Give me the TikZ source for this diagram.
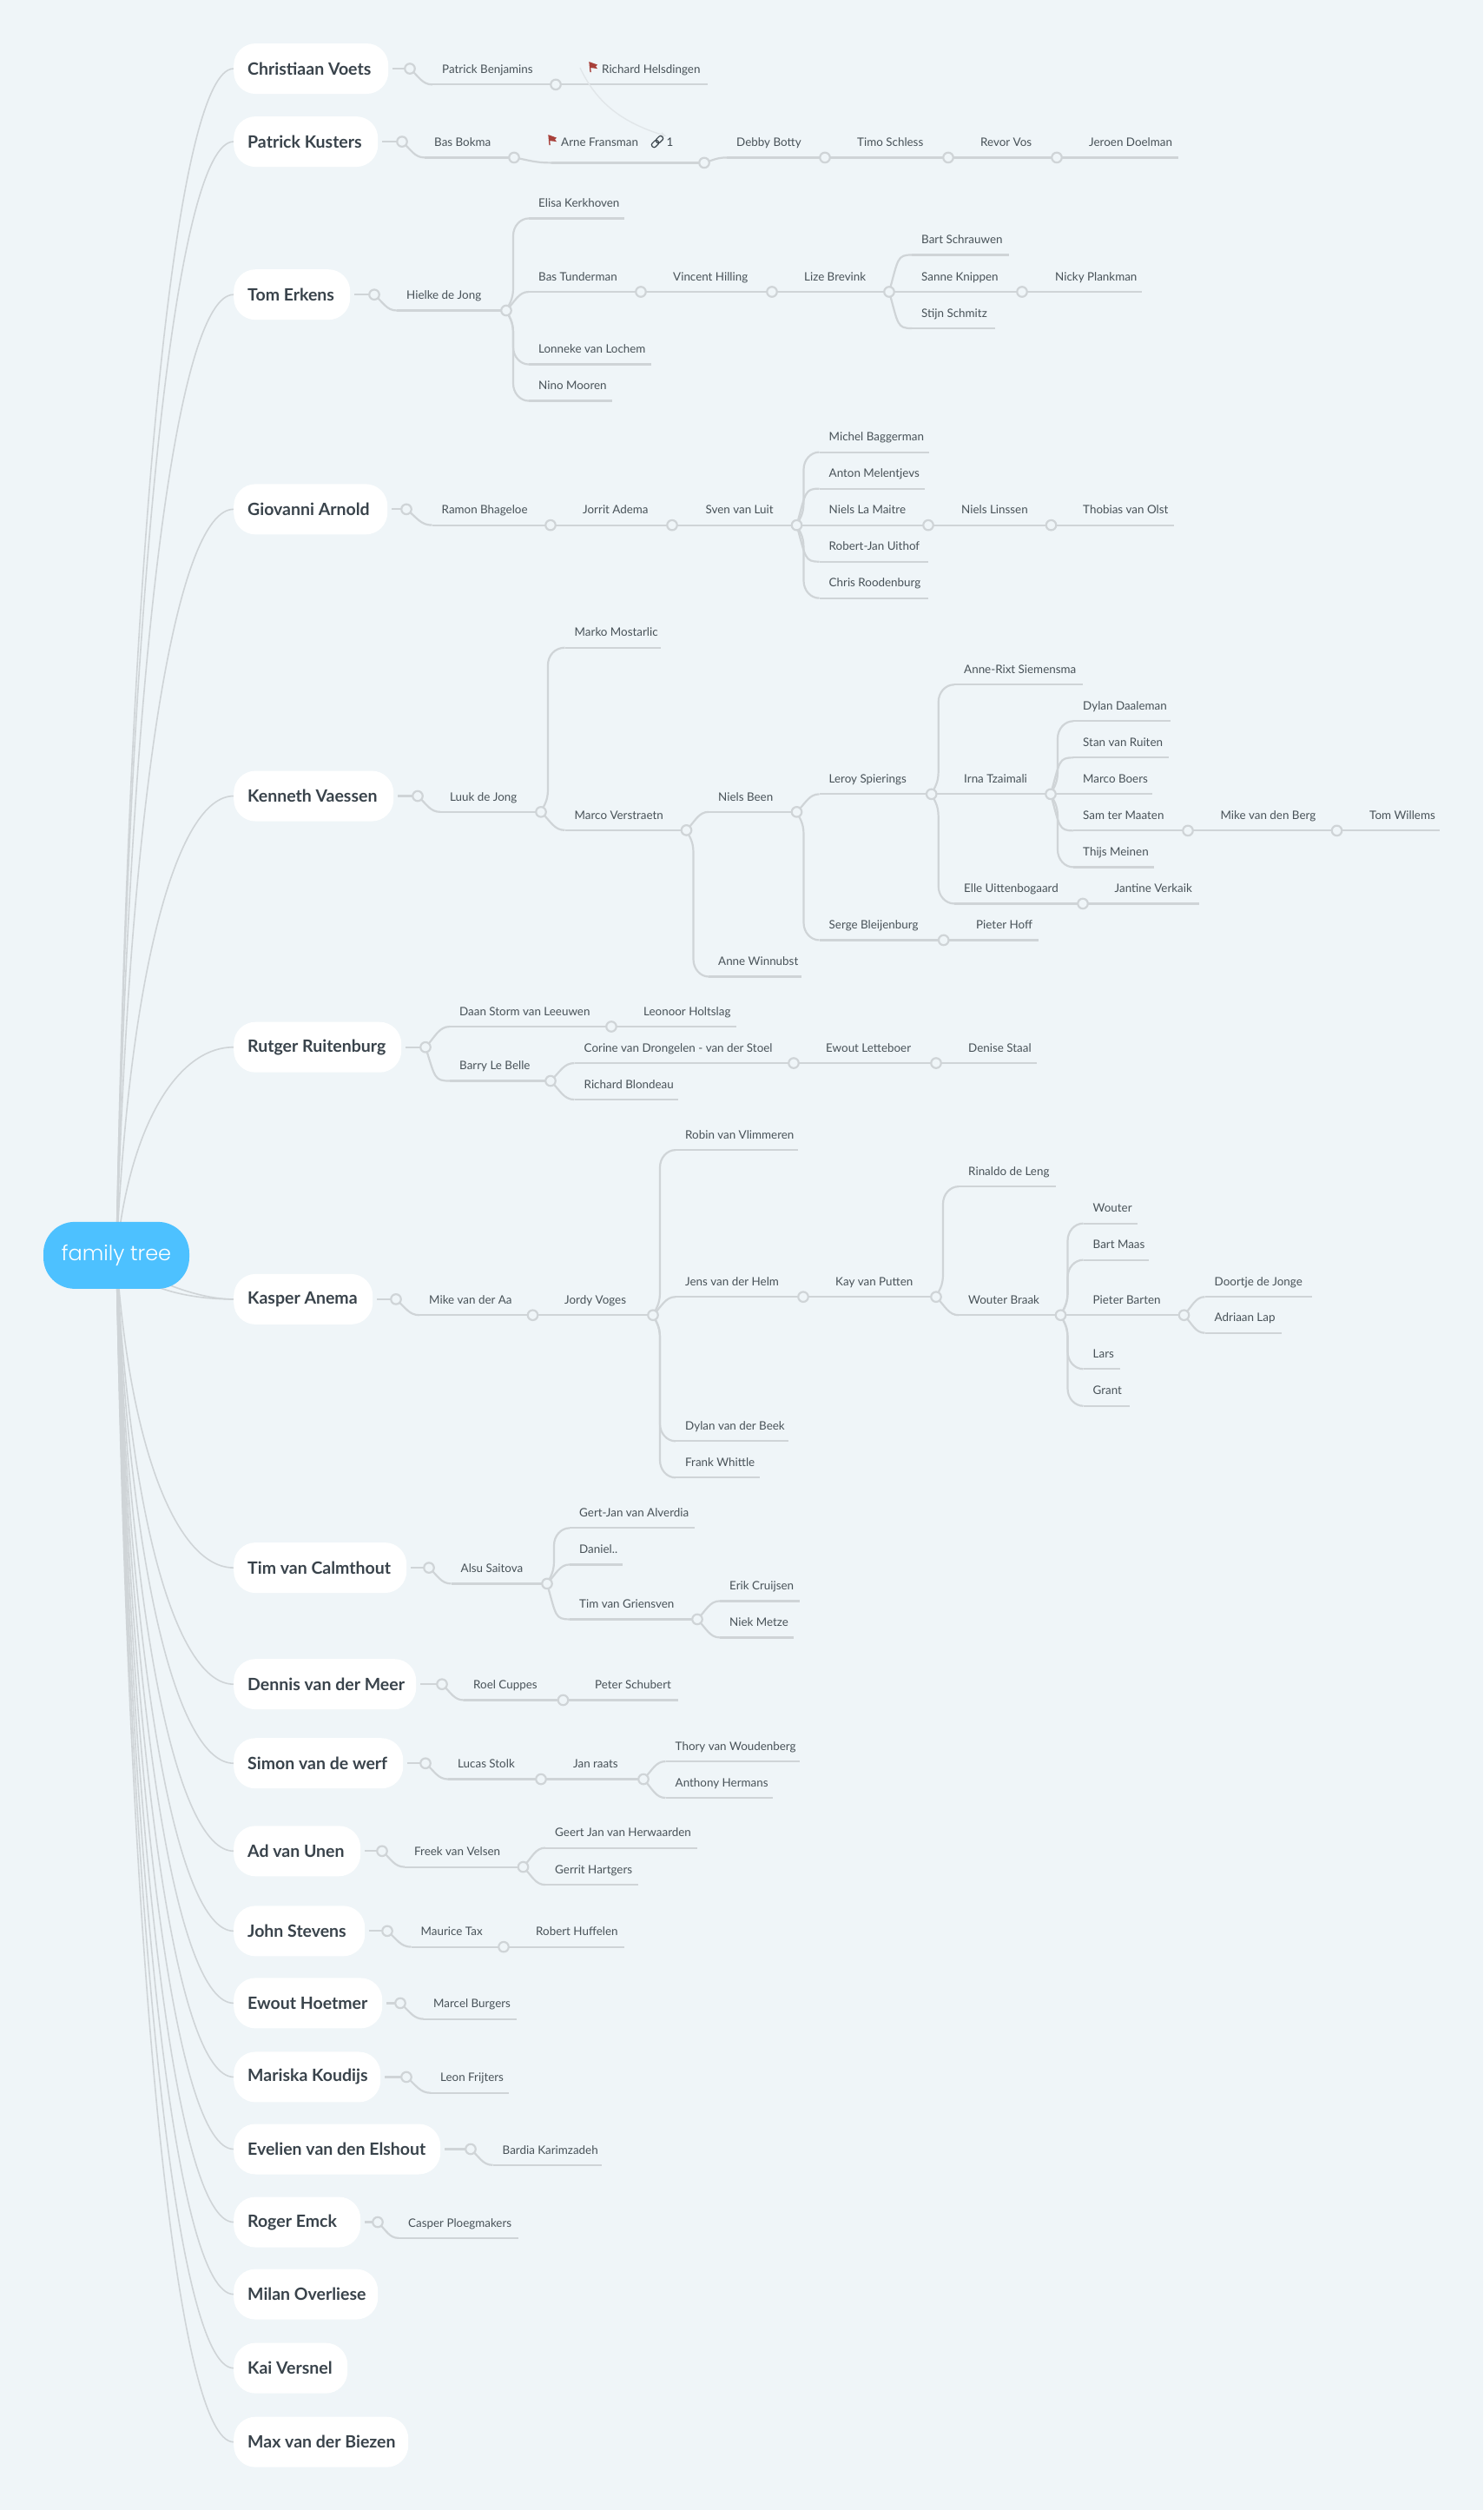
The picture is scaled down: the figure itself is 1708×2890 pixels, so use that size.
\documentclass[tikz,border=0pt]{standalone}
\usepackage{fontspec}
\usetikzlibrary{arrows.meta,calc,backgrounds}
\setmainfont{Lato}
\newfontfamily\rootfont{Poppins}[UprightFont=* Light]
\definecolor{pagebg}{HTML}{EFF5F8}
\definecolor{wirec}{HTML}{CFD4D7}
\definecolor{relc}{HTML}{E1E6E9}
\definecolor{rootc}{HTML}{4DC1FF}
\definecolor{topicink}{HTML}{39434B}
\definecolor{subink}{HTML}{485258}
\definecolor{flagc}{HTML}{A8403A}
\tikzset{
  topicbox/.style={anchor=west,fill=white,minimum height=58pt,rounded corners=25pt,inner sep=0pt,text=topicink,font=\fontsize{19.5}{22}\selectfont\bfseries},
  rootbox/.style={fill=rootc,minimum width=168pt,minimum height=77pt,rounded corners=36pt,inner sep=0pt,text=white,text height=18pt,text depth=5pt,font=\fontsize{24}{30}\rootfont},
  lbl/.style={anchor=west,inner sep=0pt,text height=12pt,text depth=1pt,text=subink,font=\fontsize{13.4}{16}\selectfont},
  knobc/.style={circle,draw=wirec,fill=pagebg,line width=2.2pt,minimum size=11.5pt,inner sep=0pt},
  wire/.style={draw=wirec,line width=2.2pt},
  rootwire/.style={draw=wirec,line width=1.6pt},
  relwire/.style={draw=relc,line width=1.4pt,-{Latex[length=7pt,width=6pt]}},
}
% person with explicit line y: name, text x, text y, line end x, line y, text
\newcommand{\personl}[6]{%
  \node[lbl] (#1) at (#2,#3) {#6};
  \coordinate (#1-a) at (#2-11,#5);
  \coordinate (#1-b) at (#4,#5);
  \begin{pgfonlayer}{background}\draw[wire] (#1-a) -- (#1-b);\end{pgfonlayer}}
% person: name, text x, text y, line end x, text
\newcommand{\person}[5]{\personl{#1}{#2}{#3}{#4}{#3+18.3}{#5}}
\newcommand{\knob}[3]{\node[knobc] (#1) at (#2,#3) {};}
% link: knob to start of a person's line; long drops run vertically beside the knob
\newcommand{\lk}[2]{%
  \begin{pgfonlayer}{background}
  \path let \p1=(#1.center),\p2=(#2-a),\n1={abs(\y2-\y1)} in \pgfextra{\xdef\lkdy{\n1}};
  \ifdim\lkdy<60pt
  \draw[wire] let \p1=(#1.center),\p2=(#2-a),\n1={abs(\y2-\y1)<30?.5:.9},\n2={abs(\y2-\y1)<30?.55:.35} in
    (\p1) .. controls (\x1+.4*\x2-.4*\x1,\y1+\n1*\y2-\n1*\y1) and (\x1+\n2*\x2-\n2*\x1,\y2) .. (\p2);
  \else
  \draw[wire] let \p1=(#1.center),\p2=(#2-a),\n1={(\y2>\y1)?1:-1} in
    (\p1) .. controls (\x1+3pt,\y1+\n1*7pt) and (\x1+8pt,\y1+\n1*12pt) .. (\x1+8pt,\y1+\n1*26pt)
    -- (\x1+8pt,\y2-\n1*20pt) .. controls (\x1+8pt,\y2-\n1*9pt) and (\x1+16pt,\y2) .. (\p2);
  \fi
  \end{pgfonlayer}}
% topic: name, y, right x, text (left aligned inside the box)
\newcommand{\topic}[4]{%
  \node[topicbox] (#1) at (269,#2) {\makebox[\dimexpr #3pt-269pt\relax][l]{\hspace{16pt}#4}};
  \begin{pgfonlayer}{background}
  \draw[rootwire] let \p1=(root.center),\p2=(#1.west) in
    (\p1) .. controls (\x1+.11*\x2-.11*\x1,\y1+.62*\y2-.62*\y1) and (\x1+.52*\x2-.52*\x1,\y2) .. (\p2);
  \end{pgfonlayer}}
% stub from topic to its knob: topic, knob, knob x, y
\newcommand{\stub}[4]{%
  \knob{#2}{#3}{#4}
  \begin{pgfonlayer}{background}\draw[wire] ([xshift=5pt]#1.east) -- (#2.center);\end{pgfonlayer}}
\newcommand{\flagmark}[2]{%
  \fill[flagc] (#1+.3,#2) -- (#1+10,#2+3.5) -- (#1+8,#2+5.5) -- (#1+10,#2+8) -- (#1+2.2,#2+7) -- (#1+2.8,#2+12) -- (#1+1.4,#2+12) -- cycle;}
\begin{document}
\begin{tikzpicture}[x=1pt,y=-1.0006pt]
\useasboundingbox (0,0) rectangle (1708,2888.27);
\begin{pgfonlayer}{background}\fill[pagebg] (0,0) rectangle (1708,2888.27);\end{pgfonlayer}
\node[rootbox] (root) at (134,1444.5) {family tree};

% ---------- Christiaan
\topic{t1}{79}{447}{Christiaan Voets}
\stub{t1}{k1}{472}{79}
\person{a1}{509}{79}{640}{Patrick Benjamins}
\knob{a1k}{640}{97.3}
\lk{k1}{a1}
\person{a2}{693}{79}{815}{Richard Helsdingen}
\lk{a1k}{a2}
\flagmark{678}{71}

% ---------- Patrick Kusters
\topic{t2}{163}{435}{Patrick Kusters}
\stub{t2}{k2}{463}{163}
\person{b1}{500}{163}{592}{Bas Bokma}
\knob{b1k}{592}{181.3}
\lk{k2}{b1}
\personl{b2}{646}{163}{811}{187.3}{Arne Fransman}
\knob{b2k}{811}{187.3}
\lk{b1k}{b2}
\flagmark{631}{155}
\person{b3}{848}{163}{950}{Debby Botty}
\knob{b3k}{950}{181.3}
\lk{b2k}{b3}
\person{b4}{987}{163}{1092}{Timo Schless}
\knob{b4k}{1092}{181.3}
\lk{b3k}{b4}
\person{b5}{1129}{163}{1217}{Revor Vos}
\knob{b5k}{1217}{181.3}
\lk{b4k}{b5}
\person{b6}{1254}{163}{1357}{Jeroen Doelman}
\lk{b5k}{b6}
% link icon and count
\coordinate (relend) at (768,157);
\coordinate (relstart) at (668,78);
\draw[relwire] (relstart) .. controls (690,125) and (725,143) .. (relend);
\begin{scope}[shift={(757,163)},rotate=45]
\draw[topicink,line width=1.2pt,rounded corners=2.4pt] (-8,-2.8) rectangle (1,2.8);
\draw[topicink,line width=1.2pt,rounded corners=2.4pt] (-1,-2.8) rectangle (8,2.8);
\end{scope}
\node[lbl,text=topicink] (count) at (767.5,163) {1};

% ---------- Tom Erkens
\topic{t3}{339}{403}{Tom Erkens}
\stub{t3}{k3}{431}{339}
\person{c1}{468}{339}{583}{Hielke de Jong}
\knob{c1k}{583}{357.3}
\lk{k3}{c1}
\person{c2}{620}{233}{719}{Elisa Kerkhoven}
\lk{c1k}{c2}
\person{c3}{620}{317.5}{738}{Bas Tunderman}
\knob{c3k}{738}{335.8}
\lk{c1k}{c3}
\person{c4}{620}{401}{750}{Lonneke van Lochem}
\lk{c1k}{c4}
\person{c5}{620}{443}{705}{Nino Mooren}
\lk{c1k}{c5}
\person{c6}{775}{317.5}{889}{Vincent Hilling}
\knob{c6k}{889}{335.8}
\lk{c3k}{c6}
\person{c7}{926}{317.5}{1024}{Lize Brevink}
\knob{c7k}{1024}{335.8}
\lk{c6k}{c7}
\person{c8}{1061}{275}{1161.5}{Bart Schrauwen}
\lk{c7k}{c8}
\person{c9}{1061}{317.5}{1177}{Sanne Knippen}
\knob{c9k}{1177}{335.8}
\lk{c7k}{c9}
\person{c10}{1061}{359.5}{1146}{Stijn Schmitz}
\lk{c7k}{c10}
\person{c11}{1215}{317.5}{1315}{Nicky Plankman}
\lk{c9k}{c11}

% ---------- Giovanni
\topic{t4}{586}{446}{Giovanni Arnold}
\stub{t4}{k4}{468}{586}
\person{d1}{508.5}{586}{634}{Ramon Bhageloe}
\knob{d1k}{634}{604.3}
\lk{k4}{d1}
\person{d2}{671}{586}{774}{Jorrit Adema}
\knob{d2k}{774}{604.3}
\lk{d1k}{d2}
\person{d3}{812.5}{586}{917.5}{Sven van Luit}
\knob{d3k}{917.5}{604.3}
\lk{d2k}{d3}
\person{d4}{954.5}{502}{1070}{Michel Baggerman}
\lk{d3k}{d4}
\person{d5}{954.5}{544}{1065}{Anton Melentjevs}
\lk{d3k}{d5}
\person{d6}{954.5}{586}{1069}{Niels La Maitre}
\knob{d6k}{1069}{604.3}
\lk{d3k}{d6}
\person{d7}{954.5}{628}{1069}{Robert-Jan Uithof}
\lk{d3k}{d7}
\person{d8}{954.5}{670}{1069}{Chris Roodenburg}
\lk{d3k}{d8}
\person{d9}{1107}{586}{1210.5}{Niels Linssen}
\knob{d9k}{1210.5}{604.3}
\lk{d6k}{d9}
\person{d10}{1247}{586}{1352}{Thobias van Olst}
\lk{d9k}{d10}

% ---------- Kenneth
\topic{t5}{916}{453}{Kenneth Vaessen}
\stub{t5}{k5}{481}{916}
\person{e1}{518}{916}{623}{Luuk de Jong}
\knob{e1k}{623}{934.3}
\lk{k5}{e1}
\person{e2}{661.5}{727}{761}{Marko Mostarlic}
\lk{e1k}{e2}
\person{e3}{661.5}{937}{790.5}{Marco Verstraetn}
\knob{e3k}{790.5}{955.3}
\lk{e1k}{e3}
\person{e4}{827}{916}{917.5}{Niels Been}
\knob{e4k}{917.5}{934.3}
\lk{e3k}{e4}
\person{e5}{827}{1105.5}{923}{Anne Winnubst}
\lk{e3k}{e5}
\person{e6}{954.5}{895.5}{1072.7}{Leroy Spierings}
\knob{e6k}{1072.7}{913.8}
\lk{e4k}{e6}
\person{e7}{954.5}{1063.5}{1086.7}{Serge Bleijenburg}
\knob{e7k}{1086.7}{1081.8}
\lk{e4k}{e7}
\person{e8}{1124}{1063.5}{1196}{Pieter Hoff}
\lk{e7k}{e8}
\person{e9}{1110}{769.5}{1246.5}{Anne-Rixt Siemensma}
\lk{e6k}{e9}
\person{e10}{1110}{895.5}{1210}{Irna Tzaimali}
\knob{e10k}{1210}{913.8}
\lk{e6k}{e10}
\person{e11}{1110}{1021.5}{1247}{Elle Uittenbogaard}
\knob{e11k}{1247}{1039.8}
\lk{e6k}{e11}
\person{e12}{1283.5}{1021.5}{1380.6}{Jantine Verkaik}
\lk{e11k}{e12}
\person{e13}{1247}{811.5}{1347.6}{Dylan Daaleman}
\lk{e10k}{e13}
\person{e14}{1247}{853.5}{1346}{Stan van Ruiten}
\lk{e10k}{e14}
\person{e15}{1247}{895.5}{1327}{Marco Boers}
\lk{e10k}{e15}
\person{e16}{1247}{937.5}{1368}{Sam ter Maaten}
\knob{e16k}{1368}{955.8}
\lk{e10k}{e16}
\person{e17}{1247}{979.5}{1328.7}{Thijs Meinen}
\lk{e10k}{e17}
\person{e18}{1405.4}{937.5}{1539.5}{Mike van den Berg}
\knob{e18k}{1539.5}{955.8}
\lk{e16k}{e18}
\person{e19}{1577}{937.5}{1658}{Tom Willems}
\lk{e18k}{e19}

% ---------- Rutger
\topic{t6}{1205}{462}{Rutger Ruitenburg}
\stub{t6}{k6}{490}{1205}
\person{f1}{529}{1163}{704}{Daan Storm van Leeuwen}
\knob{f1k}{704}{1181.3}
\lk{k6}{f1}
\person{f2}{529}{1225.5}{634}{Barry Le Belle}
\knob{f2k}{634}{1243.8}
\lk{k6}{f2}
\person{f3}{741}{1163}{848}{Leonoor Holtslag}
\lk{f1k}{f3}
\person{f4}{672.5}{1205}{914}{Corine van Drongelen - van der Stoel}
\knob{f4k}{914}{1223.3}
\lk{f2k}{f4}
\person{f5}{672.5}{1247}{781}{Richard Blondeau}
\lk{f2k}{f5}
\person{f6}{951}{1205}{1078}{Ewout Letteboer}
\knob{f6k}{1078}{1223.3}
\lk{f4k}{f6}
\person{f7}{1115}{1205}{1194}{Denise Staal}
\lk{f6k}{f7}

% ---------- Kasper
\topic{t7}{1495}{429}{Kasper Anema}
\begin{pgfonlayer}{background}
\draw[rootwire] (root.center) .. controls (165,1470) and (225,1495) .. (t7.west);
\end{pgfonlayer}
\stub{t7}{k7}{456}{1495}
\person{g1}{494}{1495}{613.5}{Mike van der Aa}
\knob{g1k}{613.5}{1513.3}
\lk{k7}{g1}
\person{g2}{650}{1495}{752}{Jordy Voges}
\knob{g2k}{752}{1513.3}
\lk{g1k}{g2}
\person{g3}{789}{1305}{919}{Robin van Vlimmeren}
\lk{g2k}{g3}
\person{g4}{789}{1474}{925}{Jens van der Helm}
\knob{g4k}{925}{1492.3}
\lk{g2k}{g4}
\person{g5}{789}{1640}{908}{Dylan van der Beek}
\lk{g2k}{g5}
\person{g6}{789}{1682}{875}{Frank Whittle}
\lk{g2k}{g6}
\person{g7}{962}{1474}{1078}{Kay van Putten}
\knob{g7k}{1078}{1492.3}
\lk{g4k}{g7}
\person{g8}{1115}{1347}{1216}{Rinaldo de Leng}
\lk{g7k}{g8}
\person{g9}{1115}{1495}{1221.5}{Wouter Braak}
\knob{g9k}{1221.5}{1513.3}
\lk{g7k}{g9}
\person{g10}{1258.5}{1389.5}{1310}{Wouter}
\lk{g9k}{g10}
\person{g11}{1258.5}{1431.5}{1323}{Bart Maas}
\lk{g9k}{g11}
\person{g12}{1258.5}{1495}{1363.5}{Pieter Barten}
\knob{g12k}{1363.5}{1513.3}
\lk{g9k}{g12}
\person{g13}{1258.5}{1557}{1290}{Lars}
\lk{g9k}{g13}
\person{g14}{1258.5}{1599.5}{1301}{Grant}
\lk{g9k}{g14}
\person{g15}{1398.5}{1474}{1511}{Doortje de Jonge}
\lk{g12k}{g15}
\person{g16}{1398.5}{1515.5}{1476}{Adriaan Lap}
\lk{g12k}{g16}

% ---------- Tim
\topic{t8}{1804}{468}{Tim van Calmthout}
\stub{t8}{k8}{494}{1804}
\person{h1}{530.5}{1804}{630}{Alsu Saitova}
\knob{h1k}{630}{1822.3}
\lk{k8}{h1}
\person{h2}{667}{1740}{800}{Gert-Jan van Alverdia}
\lk{h1k}{h2}
\person{h3}{667}{1782}{717}{Daniel..}
\lk{h1k}{h3}
\person{h4}{667}{1845}{803}{Tim van Griensven}
\knob{h4k}{803}{1863.3}
\lk{h1k}{h4}
\person{h5}{840}{1824}{921}{Erik Cruijsen}
\lk{h4k}{h5}
\person{h6}{840}{1866}{914}{Niek Metze}
\lk{h4k}{h6}

% ---------- Dennis
\topic{t9}{1938}{479}{Dennis van der Meer}
\stub{t9}{k9}{509}{1938}
\person{i1}{545}{1938}{648.5}{Roel Cuppes}
\knob{i1k}{648.5}{1956.3}
\lk{k9}{i1}
\person{i2}{685}{1938}{781}{Peter Schubert}
\lk{i1k}{i2}

% ---------- Simon
\topic{t10}{2029}{464}{Simon van de werf}
\stub{t10}{k10}{490}{2029}
\person{j1}{527}{2029}{623}{Lucas Stolk}
\knob{j1k}{623}{2047.3}
\lk{k10}{j1}
\person{j2}{660}{2029}{741}{Jan raats}
\knob{j2k}{741}{2047.3}
\lk{j1k}{j2}
\person{j3}{777.5}{2008.5}{921}{Thory van Woudenberg}
\lk{j2k}{j3}
\person{j4}{777.5}{2050.5}{890}{Anthony Hermans}
\lk{j2k}{j4}

% ---------- Ad
\topic{t11}{2130}{415}{Ad van Unen}
\stub{t11}{k11}{440}{2130}
\person{l1}{477}{2130}{602.5}{Freek van Velsen}
\knob{l1k}{602.5}{2148.3}
\lk{k11}{l1}
\person{l2}{639}{2108}{803}{Geert Jan van Herwaarden}
\lk{l1k}{l2}
\person{l3}{639}{2150.5}{735}{Gerrit Hartgers}
\lk{l1k}{l3}

% ---------- John
\topic{t12}{2222}{420}{John Stevens}
\stub{t12}{k12}{446}{2222}
\person{m1}{484.5}{2222}{580}{Maurice Tax}
\knob{m1k}{580}{2240.3}
\lk{k12}{m1}
\person{m2}{617}{2222}{718.6}{Robert Huffelen}
\lk{m1k}{m2}

% ---------- single chains
\topic{t13}{2305}{440}{Ewout Hoetmer}
\stub{t13}{k13}{461}{2305}
\person{n1}{499}{2305}{595}{Marcel Burgers}
\lk{k13}{n1}
\topic{t14}{2390}{438}{Mariska Koudijs}
\stub{t14}{k14}{468}{2390}
\person{o1}{507}{2390}{586}{Leon Frijters}
\lk{k14}{o1}
\topic{t15}{2473}{507}{Evelien van den Elshout}
\stub{t15}{k15}{542}{2473}
\person{p1}{578.5}{2473}{693}{Bardia Karimzadeh}
\lk{k15}{p1}
\topic{t16}{2557}{415}{Roger Emck}
\stub{t16}{k16}{435}{2557}
\person{q1}{470}{2557}{597}{Casper Ploegmakers}
\lk{k16}{q1}
\topic{t17}{2640}{435}{Milan Overliese}
\topic{t18}{2725}{400}{Kai Versnel}
\topic{t19}{2810}{470}{Max van der Biezen}

\end{tikzpicture}
\end{document}
